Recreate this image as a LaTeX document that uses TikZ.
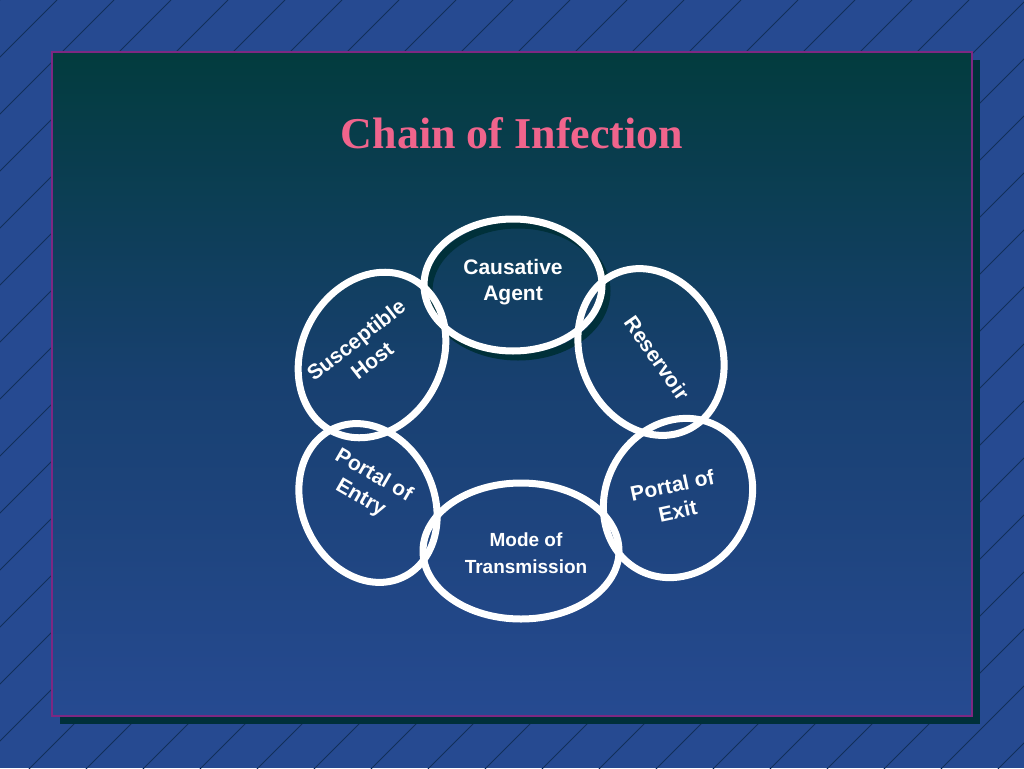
\documentclass[tikz,border=0pt]{standalone}
\usepackage{fontspec}
\setmainfont{Liberation Serif}
\setsansfont{Liberation Sans}
\begin{document}
\begin{tikzpicture}[x=1pt,y=-1pt]
\definecolor{bgblue}{RGB}{38,74,145}
\definecolor{linecol}{RGB}{18,48,90}
\definecolor{topteal}{RGB}{2,60,62}
\definecolor{frame}{RGB}{125,40,130}
\definecolor{shadowc}{RGB}{0,48,58}
\definecolor{pink}{RGB}{240,100,140}
\tikzset{ring/.style={draw=white,line width=7pt},
 lab/.style={text=white,font=\sffamily\bfseries\fontsize{21}{26}\selectfont,align=center,inner sep=0pt}}
\useasboundingbox (0,0) rectangle (1024,768);
\fill[bgblue] (0,0) rectangle (1024,768);
\begin{scope}
\clip (0,0) rectangle (1024,768);
\foreach \i in {-15,...,34} {\draw[linecol,line width=1pt] (\i*57,0) -- (\i*57-800,800);}
\end{scope}
\fill[shadowc] (60,60) rectangle (980,724);
\shade[top color=topteal,bottom color=bgblue,middle color={rgb,255:red,24;green,64;blue,112}] (52,52) rectangle (972,716);
\draw[frame,line width=1.5pt] (52,52) rectangle (972,716);
\node[text=pink,font=\bfseries\fontsize{44}{50}\selectfont] (title) at (512,133) {Chain of Infection};
\draw[shadowc,line width=7pt] (518,291) ellipse [x radius=89,y radius=66];
\draw[ring] (513,285) ellipse [x radius=89,y radius=66];
\draw[ring,rotate around={25:(651,352)}] (651,352) ellipse [x radius=70,y radius=86];
\draw[ring,rotate around={-30:(678,498)}] (678,498) ellipse [x radius=72,y radius=82];
\draw[ring] (521,551) ellipse [x radius=98,y radius=68];
\draw[ring,rotate around={25:(368,503)}] (368,503) ellipse [x radius=66,y radius=82];
\draw[ring,rotate around={-28:(372,355)}] (372,355) ellipse [x radius=70,y radius=86];
\node[lab] (ca) at (513,282) {Causative\\Agent};
\node[lab,rotate=-55] (re) at (657,358) {Reservoir};
\node[lab,rotate=12] (pe) at (675,498) {Portal of\\Exit};
\node[lab,font=\sffamily\bfseries\fontsize{19}{27}\selectfont] (mt) at (526,553) {Mode of\\Transmission};
\node[lab,rotate=-30] (en) at (367,487) {Portal of\\Entry};
\node[lab,rotate=38] (sh) at (364,350) {Susceptible\\Host};
\end{tikzpicture}
\end{document}
